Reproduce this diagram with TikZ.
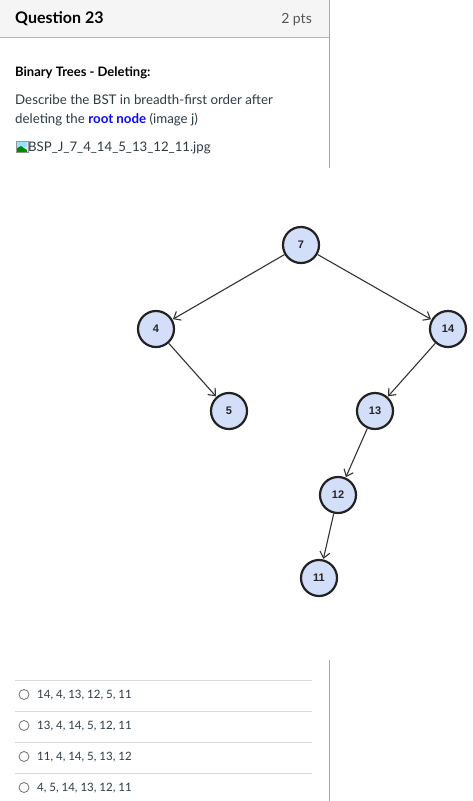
\documentclass[tikz,border=0pt]{standalone}
\usepackage{fontspec}
\setmainfont{Lato}
\newfontfamily\numfont{Liberation Sans}
\usetikzlibrary{arrows.meta}
\definecolor{hdrbg}{HTML}{F5F5F5}
\definecolor{hdrline}{HTML}{B5B5B5}
\definecolor{bordergray}{HTML}{A8A8A8}
\definecolor{sepgray}{HTML}{DADADA}
\definecolor{txt}{HTML}{2D3B45}
\definecolor{ptsgray}{HTML}{555555}
\definecolor{linkblue}{HTML}{0A0AF5}
\definecolor{nodefill}{HTML}{D3DEF8}
\definecolor{nodedraw}{HTML}{222222}
\tikzset{
  treenode/.style={circle, draw=nodedraw, line width=2.2pt, fill=nodefill, minimum size=36pt, inner sep=0pt, font=\numfont\bfseries\fontsize{11}{12}\selectfont, text=black!85},
  edge/.style={draw=black!80, line width=1.1pt, -{Straight Barb[length=6pt,width=10pt]}, shorten >=0.5pt},
  txtnode/.style={anchor=base west, inner sep=0pt, text=txt},
  radio/.style={circle, draw=black!55, line width=0.8pt, minimum size=10pt, inner sep=0pt},
  sepline/.style={draw=sepgray, line width=0.8pt}
}
\begin{document}
\begin{tikzpicture}[x=1pt,y=-1pt]
\useasboundingbox (0,0) rectangle (473,801);
\fill[white] (0,0) rectangle (473,801);
% header
\fill[hdrbg] (0,0) rectangle (329,37);
\draw[hdrline, line width=1pt] (0,37) -- (329,37);
\draw[bordergray, line width=1pt] (329,0) -- (329,168);
\draw[bordergray, line width=1pt] (329,660) -- (329,801);
\node[txtnode, text=black, font=\bfseries\fontsize{16}{18}\selectfont] (q) at (15,23) {Question 23};
\node[txtnode, text=ptsgray, anchor=base east, font=\fontsize{14}{16}\selectfont] (pts) at (312,23) {2 pts};
% question text
\node[txtnode, text=black, font=\bfseries\fontsize{13}{15}\selectfont] (title) at (15,76) {Binary Trees - Deleting:};
\node[txtnode, font=\fontsize{13.3}{15}\selectfont] (l1) at (15,104) {Describe the BST in breadth-first order after};
\node[txtnode, font=\fontsize{13.3}{15}\selectfont] (l2) at (15,123) {deleting the \textcolor{linkblue}{\fontseries{sb}\selectfont root node} (image j)};
% broken image icon
\fill[black!8] (16,141) rectangle (28,152);
\draw[black!40, line width=0.5pt] (16,141) rectangle (28,152);
\fill[blue!30!cyan!40] (17,142) rectangle (27,147);
\fill[green!55!black] (17,152) -- (17,148) -- (21,146) -- (27,150) -- (27,152) -- cycle;
\node[txtnode, font=\fontsize{13.2}{15}\selectfont] (img) at (28,151) {BSP\_J\_7\_4\_14\_5\_13\_12\_11.jpg};
% tree
\node[treenode] (n7) at (301,245) {7};
\node[treenode] (n4) at (156,329) {4};
\node[treenode] (n14) at (448,329) {14};
\node[treenode] (n5) at (229,411) {5};
\node[treenode] (n13) at (375,411) {13};
\node[treenode] (n12) at (338,495) {12};
\node[treenode] (n11) at (319,578) {11};
\draw[edge] (n7) -- (n4);
\draw[edge] (n7) -- (n14);
\draw[edge] (n4) -- (n5);
\draw[edge] (n14) -- (n13);
\draw[edge] (n13) -- (n12);
\draw[edge] (n12) -- (n11);
% options
\draw[sepline] (15,680) -- (312,680);
\draw[sepline] (15,711) -- (312,711);
\draw[sepline] (15,742) -- (312,742);
\draw[sepline] (15,773) -- (312,773);
\node[radio] (r1) at (24,694.5) {};
\node[radio] (r2) at (24,725.5) {};
\node[radio] (r3) at (24,756.5) {};
\node[radio] (r4) at (24,787.5) {};
\node[txtnode, font=\fontsize{11.5}{14}\selectfont] (o1) at (37,698.5) {14, 4, 13, 12, 5, 11};
\node[txtnode, font=\fontsize{11.5}{14}\selectfont] (o2) at (37,729.5) {13, 4, 14, 5, 12, 11};
\node[txtnode, font=\fontsize{11.5}{14}\selectfont] (o3) at (37,760.5) {11, 4, 14, 5, 13, 12};
\node[txtnode, font=\fontsize{11.5}{14}\selectfont] (o4) at (37,791.5) {4, 5, 14, 13, 12, 11};
\end{tikzpicture}
\end{document}
